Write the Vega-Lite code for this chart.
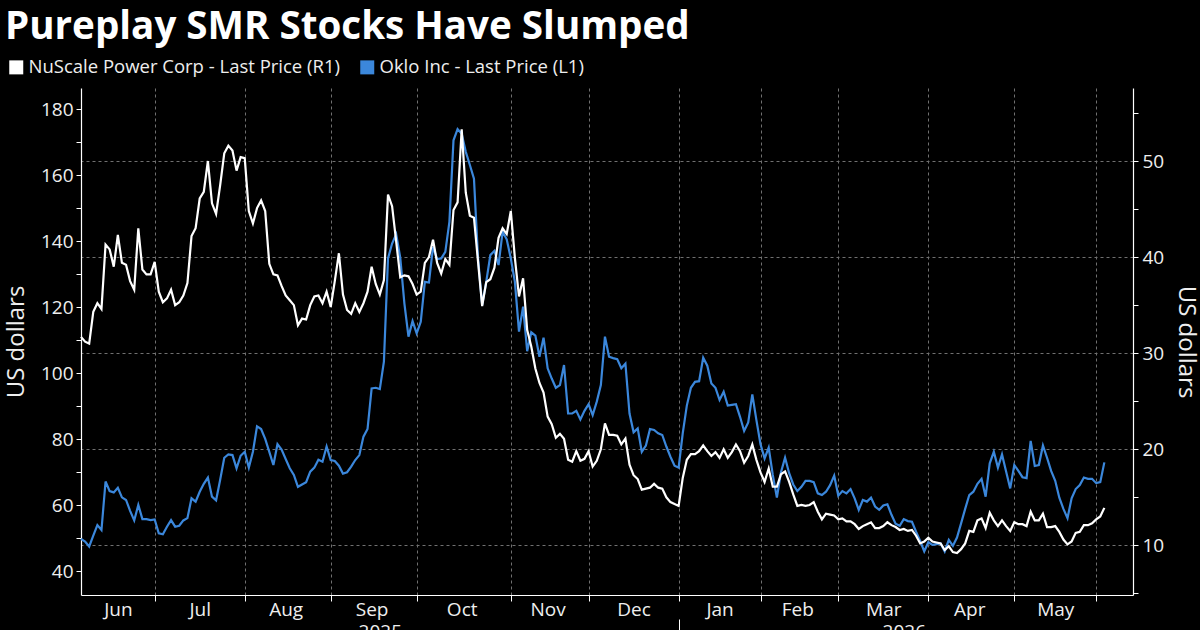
{
  "$schema": "https://vega.github.io/schema/vega-lite/v6.json",
  "width": 1052,
  "height": 507,
  "autosize": {"type": "none"},
  "padding": {"left": 81, "top": 88, "right": 67, "bottom": 35},
  "background": "#000000",
  "title": {"text": "Pureplay SMR Stocks Have Slumped", "anchor": "start", "frame": "group", "dx": -76, "font": "Open Sans", "fontSize": 38.6, "fontWeight": "bold", "color": "#ffffff", "offset": 10},
  "datasets": {
    "prices": [
{"date":"2025-06-04","nuscale":31.7,"oklo":49.8},
{"date":"2025-06-05","nuscale":31.2,"oklo":49.0},
{"date":"2025-06-06","nuscale":31.0,"oklo":47.5},
{"date":"2025-06-09","nuscale":34.3,"oklo":50.8},
{"date":"2025-06-10","nuscale":35.2,"oklo":54.0},
{"date":"2025-06-11","nuscale":34.6,"oklo":52.5},
{"date":"2025-06-12","nuscale":41.3,"oklo":67.2},
{"date":"2025-06-13","nuscale":40.8,"oklo":64.3},
{"date":"2025-06-16","nuscale":39.0,"oklo":63.9},
{"date":"2025-06-17","nuscale":42.3,"oklo":65.3},
{"date":"2025-06-18","nuscale":39.4,"oklo":62.4},
{"date":"2025-06-20","nuscale":39.2,"oklo":61.6},
{"date":"2025-06-23","nuscale":37.5,"oklo":58.3},
{"date":"2025-06-24","nuscale":36.6,"oklo":55.4},
{"date":"2025-06-25","nuscale":43.0,"oklo":60.1},
{"date":"2025-06-26","nuscale":38.7,"oklo":55.8},
{"date":"2025-06-27","nuscale":38.2,"oklo":55.8},
{"date":"2025-06-30","nuscale":38.2,"oklo":55.5},
{"date":"2025-07-01","nuscale":39.5,"oklo":55.7},
{"date":"2025-07-02","nuscale":36.4,"oklo":51.5},
{"date":"2025-07-03","nuscale":35.3,"oklo":51.2},
{"date":"2025-07-07","nuscale":35.7,"oklo":53.5},
{"date":"2025-07-08","nuscale":36.6,"oklo":55.5},
{"date":"2025-07-09","nuscale":35.0,"oklo":53.5},
{"date":"2025-07-10","nuscale":35.3,"oklo":53.8},
{"date":"2025-07-11","nuscale":36.0,"oklo":55.4},
{"date":"2025-07-14","nuscale":37.3,"oklo":56.1},
{"date":"2025-07-15","nuscale":42.2,"oklo":62.1},
{"date":"2025-07-16","nuscale":43.0,"oklo":61.1},
{"date":"2025-07-17","nuscale":46.1,"oklo":64.1},
{"date":"2025-07-18","nuscale":46.8,"oklo":66.5},
{"date":"2025-07-21","nuscale":50.0,"oklo":68.4},
{"date":"2025-07-22","nuscale":45.6,"oklo":62.6},
{"date":"2025-07-23","nuscale":44.5,"oklo":61.5},
{"date":"2025-07-24","nuscale":47.5,"oklo":67.7},
{"date":"2025-07-25","nuscale":50.8,"oklo":74.4},
{"date":"2025-07-28","nuscale":51.6,"oklo":75.4},
{"date":"2025-07-29","nuscale":51.1,"oklo":75.2},
{"date":"2025-07-30","nuscale":49.0,"oklo":71.2},
{"date":"2025-07-31","nuscale":50.4,"oklo":75.0},
{"date":"2025-08-01","nuscale":50.3,"oklo":76.2},
{"date":"2025-08-04","nuscale":44.8,"oklo":71.4},
{"date":"2025-08-05","nuscale":43.5,"oklo":76.2},
{"date":"2025-08-06","nuscale":45.1,"oklo":83.9},
{"date":"2025-08-07","nuscale":45.9,"oklo":83.1},
{"date":"2025-08-08","nuscale":44.8,"oklo":80.1},
{"date":"2025-08-11","nuscale":39.3,"oklo":76.2},
{"date":"2025-08-12","nuscale":38.2,"oklo":72.2},
{"date":"2025-08-13","nuscale":38.1,"oklo":78.5},
{"date":"2025-08-14","nuscale":37.0,"oklo":76.9},
{"date":"2025-08-15","nuscale":36.0,"oklo":74.0},
{"date":"2025-08-18","nuscale":35.5,"oklo":71.2},
{"date":"2025-08-19","nuscale":35.0,"oklo":69.2},
{"date":"2025-08-20","nuscale":32.9,"oklo":65.6},
{"date":"2025-08-21","nuscale":33.6,"oklo":66.3},
{"date":"2025-08-22","nuscale":33.5,"oklo":67.0},
{"date":"2025-08-25","nuscale":35.0,"oklo":70.2},
{"date":"2025-08-26","nuscale":35.9,"oklo":71.4},
{"date":"2025-08-27","nuscale":36.0,"oklo":73.8},
{"date":"2025-08-28","nuscale":35.2,"oklo":73.2},
{"date":"2025-08-29","nuscale":36.4,"oklo":77.8},
{"date":"2025-09-02","nuscale":34.8,"oklo":73.7},
{"date":"2025-09-03","nuscale":37.5,"oklo":73.4},
{"date":"2025-09-04","nuscale":40.4,"oklo":72.0},
{"date":"2025-09-05","nuscale":36.1,"oklo":69.6},
{"date":"2025-09-08","nuscale":34.5,"oklo":70.0},
{"date":"2025-09-09","nuscale":34.1,"oklo":71.7},
{"date":"2025-09-10","nuscale":35.2,"oklo":73.7},
{"date":"2025-09-11","nuscale":34.3,"oklo":75.2},
{"date":"2025-09-12","nuscale":35.2,"oklo":80.8},
{"date":"2025-09-15","nuscale":36.4,"oklo":83.1},
{"date":"2025-09-16","nuscale":39.0,"oklo":95.4},
{"date":"2025-09-17","nuscale":37.2,"oklo":95.6},
{"date":"2025-09-18","nuscale":36.1,"oklo":95.2},
{"date":"2025-09-19","nuscale":37.6,"oklo":103.5},
{"date":"2025-09-22","nuscale":46.5,"oklo":134.8},
{"date":"2025-09-23","nuscale":45.3,"oklo":139.3},
{"date":"2025-09-24","nuscale":41.6,"oklo":142.1},
{"date":"2025-09-25","nuscale":37.9,"oklo":135.0},
{"date":"2025-09-26","nuscale":38.1,"oklo":121.2},
{"date":"2025-09-29","nuscale":38.0,"oklo":111.1},
{"date":"2025-09-30","nuscale":37.2,"oklo":115.8},
{"date":"2025-10-01","nuscale":36.1,"oklo":112.1},
{"date":"2025-10-02","nuscale":36.4,"oklo":115.6},
{"date":"2025-10-03","nuscale":39.4,"oklo":127.7},
{"date":"2025-10-06","nuscale":40.0,"oklo":127.5},
{"date":"2025-10-07","nuscale":41.8,"oklo":138.3},
{"date":"2025-10-08","nuscale":39.4,"oklo":134.6},
{"date":"2025-10-09","nuscale":38.3,"oklo":134.8},
{"date":"2025-10-10","nuscale":39.8,"oklo":136.8},
{"date":"2025-10-13","nuscale":39.2,"oklo":145.9},
{"date":"2025-10-14","nuscale":44.9,"oklo":170.6},
{"date":"2025-10-15","nuscale":45.7,"oklo":174.0},
{"date":"2025-10-16","nuscale":53.3,"oklo":172.6},
{"date":"2025-10-17","nuscale":46.7,"oklo":167.1},
{"date":"2025-10-20","nuscale":44.3,"oklo":163.1},
{"date":"2025-10-21","nuscale":44.1,"oklo":159.0},
{"date":"2025-10-22","nuscale":39.5,"oklo":134.8},
{"date":"2025-10-23","nuscale":34.9,"oklo":120.7},
{"date":"2025-10-24","nuscale":37.4,"oklo":127.7},
{"date":"2025-10-27","nuscale":37.7,"oklo":135.8},
{"date":"2025-10-28","nuscale":38.9,"oklo":137.1},
{"date":"2025-10-29","nuscale":42.0,"oklo":132.8},
{"date":"2025-10-30","nuscale":43.0,"oklo":142.9},
{"date":"2025-10-31","nuscale":42.4,"oklo":140.6},
{"date":"2025-11-03","nuscale":44.8,"oklo":134.8},
{"date":"2025-11-04","nuscale":39.9,"oklo":127.7},
{"date":"2025-11-05","nuscale":35.9,"oklo":112.6},
{"date":"2025-11-06","nuscale":37.8,"oklo":120.2},
{"date":"2025-11-07","nuscale":32.4,"oklo":106.7},
{"date":"2025-11-10","nuscale":30.7,"oklo":112.4},
{"date":"2025-11-11","nuscale":28.4,"oklo":111.4},
{"date":"2025-11-12","nuscale":26.9,"oklo":105.0},
{"date":"2025-11-13","nuscale":25.9,"oklo":110.8},
{"date":"2025-11-14","nuscale":23.4,"oklo":101.5},
{"date":"2025-11-17","nuscale":22.6,"oklo":98.4},
{"date":"2025-11-18","nuscale":21.2,"oklo":95.6},
{"date":"2025-11-19","nuscale":21.6,"oklo":96.4},
{"date":"2025-11-20","nuscale":21.1,"oklo":102.5},
{"date":"2025-11-21","nuscale":18.9,"oklo":87.8},
{"date":"2025-11-24","nuscale":18.7,"oklo":87.8},
{"date":"2025-11-25","nuscale":19.8,"oklo":88.6},
{"date":"2025-11-26","nuscale":18.8,"oklo":86.0},
{"date":"2025-11-28","nuscale":19.0,"oklo":88.6},
{"date":"2025-12-01","nuscale":19.8,"oklo":90.6},
{"date":"2025-12-02","nuscale":18.2,"oklo":87.3},
{"date":"2025-12-03","nuscale":18.8,"oklo":91.4},
{"date":"2025-12-04","nuscale":20.0,"oklo":96.4},
{"date":"2025-12-05","nuscale":22.7,"oklo":111.1},
{"date":"2025-12-08","nuscale":21.5,"oklo":105.0},
{"date":"2025-12-09","nuscale":21.5,"oklo":104.6},
{"date":"2025-12-10","nuscale":21.4,"oklo":104.3},
{"date":"2025-12-11","nuscale":20.5,"oklo":101.5},
{"date":"2025-12-12","nuscale":21.1,"oklo":102.9},
{"date":"2025-12-15","nuscale":18.4,"oklo":87.8},
{"date":"2025-12-16","nuscale":17.3,"oklo":82.1},
{"date":"2025-12-17","nuscale":16.9,"oklo":83.3},
{"date":"2025-12-18","nuscale":15.8,"oklo":76.2},
{"date":"2025-12-19","nuscale":15.9,"oklo":78.1},
{"date":"2025-12-22","nuscale":16.0,"oklo":83.1},
{"date":"2025-12-23","nuscale":16.4,"oklo":82.8},
{"date":"2025-12-24","nuscale":16.0,"oklo":81.8},
{"date":"2025-12-26","nuscale":15.9,"oklo":81.3},
{"date":"2025-12-29","nuscale":15.0,"oklo":77.8},
{"date":"2025-12-30","nuscale":14.5,"oklo":74.7},
{"date":"2025-12-31","nuscale":14.3,"oklo":72.0},
{"date":"2026-01-02","nuscale":14.1,"oklo":71.4},
{"date":"2026-01-05","nuscale":17.0,"oklo":81.8},
{"date":"2026-01-06","nuscale":18.9,"oklo":90.2},
{"date":"2026-01-07","nuscale":19.5,"oklo":95.6},
{"date":"2026-01-08","nuscale":19.5,"oklo":97.4},
{"date":"2026-01-09","nuscale":19.8,"oklo":97.6},
{"date":"2026-01-12","nuscale":20.4,"oklo":104.7},
{"date":"2026-01-13","nuscale":19.8,"oklo":102.3},
{"date":"2026-01-14","nuscale":19.3,"oklo":96.9},
{"date":"2026-01-15","nuscale":19.7,"oklo":95.6},
{"date":"2026-01-16","nuscale":19.1,"oklo":91.9},
{"date":"2026-01-20","nuscale":20.0,"oklo":94.4},
{"date":"2026-01-21","nuscale":19.1,"oklo":90.2},
{"date":"2026-01-22","nuscale":19.7,"oklo":90.4},
{"date":"2026-01-23","nuscale":20.5,"oklo":90.6},
{"date":"2026-01-26","nuscale":19.8,"oklo":86.8},
{"date":"2026-01-27","nuscale":18.6,"oklo":82.5},
{"date":"2026-01-28","nuscale":19.3,"oklo":85.1},
{"date":"2026-01-29","nuscale":20.5,"oklo":93.6},
{"date":"2026-01-30","nuscale":18.9,"oklo":85.8},
{"date":"2026-02-02","nuscale":17.6,"oklo":78.5},
{"date":"2026-02-03","nuscale":16.6,"oklo":74.2},
{"date":"2026-02-04","nuscale":18.0,"oklo":77.5},
{"date":"2026-02-05","nuscale":16.1,"oklo":69.2},
{"date":"2026-02-06","nuscale":16.1,"oklo":62.3},
{"date":"2026-02-09","nuscale":17.4,"oklo":70.0},
{"date":"2026-02-10","nuscale":17.7,"oklo":74.4},
{"date":"2026-02-11","nuscale":16.6,"oklo":69.7},
{"date":"2026-02-12","nuscale":15.3,"oklo":66.3},
{"date":"2026-02-13","nuscale":14.1,"oklo":64.3},
{"date":"2026-02-17","nuscale":14.2,"oklo":65.6},
{"date":"2026-02-18","nuscale":14.1,"oklo":67.4},
{"date":"2026-02-19","nuscale":14.2,"oklo":67.4},
{"date":"2026-02-20","nuscale":14.5,"oklo":67.0},
{"date":"2026-02-23","nuscale":13.5,"oklo":63.6},
{"date":"2026-02-24","nuscale":12.7,"oklo":63.1},
{"date":"2026-02-25","nuscale":13.3,"oklo":64.1},
{"date":"2026-02-26","nuscale":13.2,"oklo":66.1},
{"date":"2026-02-27","nuscale":13.1,"oklo":69.0},
{"date":"2026-03-02","nuscale":12.7,"oklo":62.9},
{"date":"2026-03-03","nuscale":12.8,"oklo":64.3},
{"date":"2026-03-04","nuscale":12.5,"oklo":63.6},
{"date":"2026-03-05","nuscale":12.5,"oklo":64.9},
{"date":"2026-03-06","nuscale":12.2,"oklo":62.1},
{"date":"2026-03-09","nuscale":11.7,"oklo":58.6},
{"date":"2026-03-10","nuscale":12.0,"oklo":61.6},
{"date":"2026-03-11","nuscale":12.2,"oklo":61.1},
{"date":"2026-03-12","nuscale":12.4,"oklo":62.3},
{"date":"2026-03-13","nuscale":11.8,"oklo":59.6},
{"date":"2026-03-16","nuscale":11.8,"oklo":58.6},
{"date":"2026-03-17","nuscale":12.0,"oklo":59.9},
{"date":"2026-03-18","nuscale":12.4,"oklo":60.3},
{"date":"2026-03-19","nuscale":12.1,"oklo":57.1},
{"date":"2026-03-20","nuscale":11.9,"oklo":54.4},
{"date":"2026-03-23","nuscale":11.6,"oklo":53.8},
{"date":"2026-03-24","nuscale":11.7,"oklo":55.8},
{"date":"2026-03-25","nuscale":11.5,"oklo":55.2},
{"date":"2026-03-26","nuscale":11.6,"oklo":55.0},
{"date":"2026-03-27","nuscale":11.0,"oklo":52.0},
{"date":"2026-03-30","nuscale":10.2,"oklo":49.2},
{"date":"2026-03-31","nuscale":10.4,"oklo":46.0},
{"date":"2026-04-01","nuscale":10.8,"oklo":48.8},
{"date":"2026-04-02","nuscale":10.4,"oklo":48.0},
{"date":"2026-04-06","nuscale":10.3,"oklo":48.2},
{"date":"2026-04-07","nuscale":10.2,"oklo":48.4},
{"date":"2026-04-08","nuscale":9.5,"oklo":46.0},
{"date":"2026-04-09","nuscale":9.9,"oklo":49.5},
{"date":"2026-04-10","nuscale":9.3,"oklo":47.7},
{"date":"2026-04-13","nuscale":9.2,"oklo":50.2},
{"date":"2026-04-14","nuscale":9.6,"oklo":54.5},
{"date":"2026-04-15","nuscale":10.2,"oklo":58.9},
{"date":"2026-04-16","nuscale":11.5,"oklo":63.1},
{"date":"2026-04-17","nuscale":11.4,"oklo":64.1},
{"date":"2026-04-20","nuscale":12.6,"oklo":66.5},
{"date":"2026-04-21","nuscale":12.8,"oklo":68.0},
{"date":"2026-04-22","nuscale":11.8,"oklo":62.6},
{"date":"2026-04-23","nuscale":13.4,"oklo":72.7},
{"date":"2026-04-24","nuscale":12.6,"oklo":76.2},
{"date":"2026-04-27","nuscale":12.0,"oklo":71.4},
{"date":"2026-04-28","nuscale":12.6,"oklo":75.4},
{"date":"2026-04-29","nuscale":12.0,"oklo":70.2},
{"date":"2026-04-30","nuscale":11.5,"oklo":65.1},
{"date":"2026-05-01","nuscale":12.4,"oklo":72.2},
{"date":"2026-05-04","nuscale":12.2,"oklo":70.4},
{"date":"2026-05-05","nuscale":12.2,"oklo":68.5},
{"date":"2026-05-06","nuscale":12.0,"oklo":68.2},
{"date":"2026-05-07","nuscale":13.5,"oklo":79.5},
{"date":"2026-05-08","nuscale":12.6,"oklo":71.9},
{"date":"2026-05-11","nuscale":12.6,"oklo":72.2},
{"date":"2026-05-12","nuscale":13.3,"oklo":78.1},
{"date":"2026-05-13","nuscale":11.9,"oklo":74.4},
{"date":"2026-05-14","nuscale":11.9,"oklo":70.4},
{"date":"2026-05-15","nuscale":12.0,"oklo":67.4},
{"date":"2026-05-18","nuscale":11.4,"oklo":62.3},
{"date":"2026-05-19","nuscale":10.6,"oklo":58.9},
{"date":"2026-05-20","nuscale":10.1,"oklo":56.1},
{"date":"2026-05-21","nuscale":10.4,"oklo":62.1},
{"date":"2026-05-22","nuscale":11.3,"oklo":64.9},
{"date":"2026-05-26","nuscale":11.4,"oklo":66.1},
{"date":"2026-05-27","nuscale":12.1,"oklo":68.4},
{"date":"2026-05-28","nuscale":12.1,"oklo":68.0},
{"date":"2026-05-29","nuscale":12.3,"oklo":68.0},
{"date":"2026-06-01","nuscale":12.7,"oklo":66.7},
{"date":"2026-06-02","nuscale":13.0,"oklo":67.0},
{"date":"2026-06-03","nuscale":13.9,"oklo":73.0}
    ]
  },
  "data": {"name": "prices"},
  "config": {
    "view": {"stroke": null},
    "font": "Open Sans",
    "axis": {
      "labelColor": "#eeeeee", "titleColor": "#eeeeee", "domainColor": "#ffffff", "tickColor": "#ffffff",
      "labelFont": "Open Sans", "titleFont": "Open Sans", "titleFontWeight": "normal",
      "labelFontSize": 19, "titleFontSize": 24, "gridColor": "#707070", "gridDash": [3, 3], "gridWidth": 1,
      "domainWidth": 1.2
    },
    "legend": {"labelFont": "Open Sans"}
  },
  "resolve": {"scale": {"y": "independent"}, "axis": {"x": "independent", "y": "independent"}},
  "layer": [
    {
      "mark": {"type": "line", "strokeWidth": 2.2},
      "encoding": {
        "x": {
          "field": "date", "type": "ordinal",
          "scale": {"type": "point", "padding": 0, "domain": ["2025-06-04","2025-06-05","2025-06-06","2025-06-09","2025-06-10","2025-06-11","2025-06-12","2025-06-13","2025-06-16","2025-06-17","2025-06-18","2025-06-20","2025-06-23","2025-06-24","2025-06-25","2025-06-26","2025-06-27","2025-06-30","2025-07-01","2025-07-02","2025-07-03","2025-07-07","2025-07-08","2025-07-09","2025-07-10","2025-07-11","2025-07-14","2025-07-15","2025-07-16","2025-07-17","2025-07-18","2025-07-21","2025-07-22","2025-07-23","2025-07-24","2025-07-25","2025-07-28","2025-07-29","2025-07-30","2025-07-31","2025-08-01","2025-08-04","2025-08-05","2025-08-06","2025-08-07","2025-08-08","2025-08-11","2025-08-12","2025-08-13","2025-08-14","2025-08-15","2025-08-18","2025-08-19","2025-08-20","2025-08-21","2025-08-22","2025-08-25","2025-08-26","2025-08-27","2025-08-28","2025-08-29","2025-09-02","2025-09-03","2025-09-04","2025-09-05","2025-09-08","2025-09-09","2025-09-10","2025-09-11","2025-09-12","2025-09-15","2025-09-16","2025-09-17","2025-09-18","2025-09-19","2025-09-22","2025-09-23","2025-09-24","2025-09-25","2025-09-26","2025-09-29","2025-09-30","2025-10-01","2025-10-02","2025-10-03","2025-10-06","2025-10-07","2025-10-08","2025-10-09","2025-10-10","2025-10-13","2025-10-14","2025-10-15","2025-10-16","2025-10-17","2025-10-20","2025-10-21","2025-10-22","2025-10-23","2025-10-24","2025-10-27","2025-10-28","2025-10-29","2025-10-30","2025-10-31","2025-11-03","2025-11-04","2025-11-05","2025-11-06","2025-11-07","2025-11-10","2025-11-11","2025-11-12","2025-11-13","2025-11-14","2025-11-17","2025-11-18","2025-11-19","2025-11-20","2025-11-21","2025-11-24","2025-11-25","2025-11-26","2025-11-28","2025-12-01","2025-12-02","2025-12-03","2025-12-04","2025-12-05","2025-12-08","2025-12-09","2025-12-10","2025-12-11","2025-12-12","2025-12-15","2025-12-16","2025-12-17","2025-12-18","2025-12-19","2025-12-22","2025-12-23","2025-12-24","2025-12-26","2025-12-29","2025-12-30","2025-12-31","2026-01-02","2026-01-05","2026-01-06","2026-01-07","2026-01-08","2026-01-09","2026-01-12","2026-01-13","2026-01-14","2026-01-15","2026-01-16","2026-01-20","2026-01-21","2026-01-22","2026-01-23","2026-01-26","2026-01-27","2026-01-28","2026-01-29","2026-01-30","2026-02-02","2026-02-03","2026-02-04","2026-02-05","2026-02-06","2026-02-09","2026-02-10","2026-02-11","2026-02-12","2026-02-13","2026-02-17","2026-02-18","2026-02-19","2026-02-20","2026-02-23","2026-02-24","2026-02-25","2026-02-26","2026-02-27","2026-03-02","2026-03-03","2026-03-04","2026-03-05","2026-03-06","2026-03-09","2026-03-10","2026-03-11","2026-03-12","2026-03-13","2026-03-16","2026-03-17","2026-03-18","2026-03-19","2026-03-20","2026-03-23","2026-03-24","2026-03-25","2026-03-26","2026-03-27","2026-03-30","2026-03-31","2026-04-01","2026-04-02","2026-04-06","2026-04-07","2026-04-08","2026-04-09","2026-04-10","2026-04-13","2026-04-14","2026-04-15","2026-04-16","2026-04-17","2026-04-20","2026-04-21","2026-04-22","2026-04-23","2026-04-24","2026-04-27","2026-04-28","2026-04-29","2026-04-30","2026-05-01","2026-05-04","2026-05-05","2026-05-06","2026-05-07","2026-05-08","2026-05-11","2026-05-12","2026-05-13","2026-05-14","2026-05-15","2026-05-18","2026-05-19","2026-05-20","2026-05-21","2026-05-22","2026-05-26","2026-05-27","2026-05-28","2026-05-29","2026-06-01","2026-06-02","2026-06-03","2026-06-04","2026-06-05","2026-06-08","2026-06-09","2026-06-10","2026-06-11","2026-06-12"]},
          "axis": {"orient": "bottom", "title": null, "labels": false, "ticks": true, "tickSize": 6, "grid": true, "domain": true, "labelAngle": 0,
            "values": ["2025-07-01","2025-08-01","2025-09-02","2025-10-01","2025-11-03","2025-12-01","2026-01-02","2026-02-02","2026-03-02","2026-04-01","2026-05-01","2026-06-01"]}
        },
        "y": {
          "field": "oklo", "type": "quantitative",
          "scale": {"domain": [32.8, 186.45], "nice": false, "zero": false},
          "axis": {"orient": "left", "title": "US dollars", "values": [40,50,60,70,80,90,100,110,120,130,140,150,160,170,180], "labelExpr": "datum.value % 20 == 0 ? datum.label : ''", "tickSize": 5, "labelPadding": 3, "grid": false, "titlePadding": 12}
        },
        "color": {
          "datum": "Oklo Inc - Last Price (L1)", "type": "nominal",
          "scale": {"domain": ["NuScale Power Corp - Last Price (R1)", "Oklo Inc - Last Price (L1)"], "range": ["#ffffff", "#3b87db"]},
          "legend": {
            "orient": "none", "legendX": -74, "legendY": -30, "direction": "horizontal", "title": null,
            "symbolType": "square", "symbolSize": 196, "labelFontSize": 18.5, "labelColor": "#eeeeee", "columnPadding": 18, "labelOffset": 3, "labelLimit": 0,
            "encode": {"symbols": {"update": {"fill": {"scale": "color", "field": "value"}, "strokeWidth": {"value": 0}}}}
          }
        }
      }
    },
    {
      "mark": {"type": "line", "strokeWidth": 2.2},
      "encoding": {
        "x": {
          "field": "date", "type": "ordinal",
          "axis": {"orient": "bottom", "title": null, "ticks": false, "grid": false, "domain": false, "labelPadding": 5, "labelFontSize": 19, "labelAngle": 0,
            "values": ["2025-06-17","2025-07-17","2025-08-15","2025-09-16","2025-10-16","2025-11-14","2025-12-16","2026-01-16","2026-02-13","2026-03-17","2026-04-16","2026-05-15"],
            "labelExpr": "utcFormat(toDate(datum.value), '%b')"}
        },
        "y": {
          "field": "nuscale", "type": "quantitative",
          "scale": {"domain": [4.83, 57.6], "nice": false, "zero": false},
          "axis": {"orient": "right", "title": "US dollars", "values": [5,10,15,20,25,30,35,40,45,50,55], "labelExpr": "datum.value % 10 == 0 ? datum.label : ''", "tickSize": 5, "labelPadding": 4, "titlePadding": 10,
            "grid": true, "gridOpacity": {"condition": {"test": "datum.value % 10 == 0", "value": 1}, "value": 0}}
        },
        "color": {"datum": "NuScale Power Corp - Last Price (R1)", "type": "nominal"}
      }
    },
    {
      "mark": {"type": "point", "opacity": 0},
      "encoding": {
        "x": {
          "field": "date", "type": "ordinal",
          "axis": {"orient": "bottom", "title": null, "ticks": true, "tickSize": 12, "offset": 24, "grid": false, "domain": false, "labelPadding": -9, "labelFontSize": 19, "labelAngle": 0,
            "tickOpacity": {"condition": {"test": "datum.value == '2026-01-02'", "value": 1}, "value": 0},
            "values": ["2025-09-18","2026-01-02","2026-03-24"],
            "labelExpr": "datum.value == '2026-01-02' ? '' : substring(datum.value, 0, 4)"}
        }
      }
    }
  ]
}
